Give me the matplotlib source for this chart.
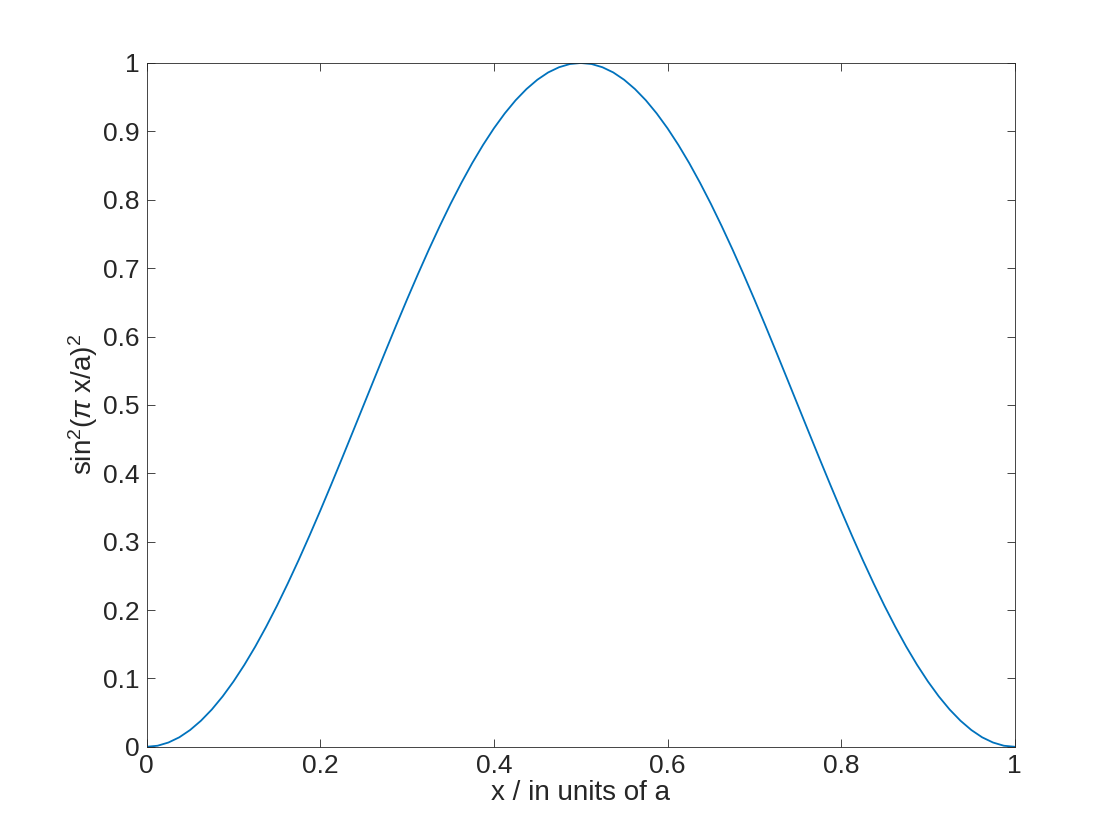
import matplotlib
matplotlib.use("Agg")
import matplotlib.pyplot as plt

half_x = [i * 0.0125 for i in range(41)]
half = [0, 0.0015, 0.0062, 0.0138, 0.0245, 0.0381, 0.0545, 0.0737, 0.0955, 0.1198, 0.1464, 0.1753, 0.2061, 0.2388,
        0.2730, 0.3087, 0.3455, 0.3833, 0.4218, 0.4608, 0.5, 0.5392, 0.5782, 0.6167, 0.6545, 0.6913, 0.7270, 0.7612,
        0.7939, 0.8247, 0.8536, 0.8802, 0.9045, 0.9263, 0.9455, 0.9619, 0.9755, 0.9862, 0.9938, 0.9985, 1.0]
x_vals = half_x + [1 - v for v in half_x[-2::-1]]
y_vals = half + half[-2::-1]

x_ticks = [0, 0.2, 0.4, 0.6, 0.8, 1]
x_ticklabels = ["0", "0.2", "0.4", "0.6", "0.8", "1"]
y_ticks = [0, 0.1, 0.2, 0.3, 0.4, 0.5, 0.6, 0.7, 0.8, 0.9, 1]
y_ticklabels = ["0", "0.1", "0.2", "0.3", "0.4", "0.5", "0.6", "0.7", "0.8", "0.9", "1"]

plt.rcParams['font.family'] = ['Liberation Sans', 'DejaVu Sans']
plt.rcParams['mathtext.fontset'] = 'custom'
plt.rcParams['mathtext.rm'] = 'Liberation Sans'
plt.rcParams['mathtext.it'] = 'Liberation Sans:italic'

fig = plt.figure(figsize=(11.2, 8.4), dpi=100)
ax = fig.add_axes([0.131, 0.111, 0.775, 0.814])
ax.plot(x_vals, y_vals, color='#0072BD', lw=1.3)
ax.set_xlim(0, 1)
ax.set_ylim(0, 1)
ax.set_xticks(x_ticks)
ax.set_xticklabels(x_ticklabels)
ax.set_yticks(y_ticks)
ax.set_yticklabels(y_ticklabels)
ax.tick_params(direction='in', top=True, right=True, labelsize=19, colors='#262626', length=6, width=0.6, pad=5)
for s in ax.spines.values():
    s.set_linewidth(0.6)
    s.set_color('#262626')
ax.set_xlabel('x / in units of a', fontsize=20, color='#262626', labelpad=2)
ax.set_ylabel(r'sin$^2$($\pi$ x/a)$^2$', fontsize=20, color='#262626', labelpad=2)
fig.savefig('out.png', dpi=100)
